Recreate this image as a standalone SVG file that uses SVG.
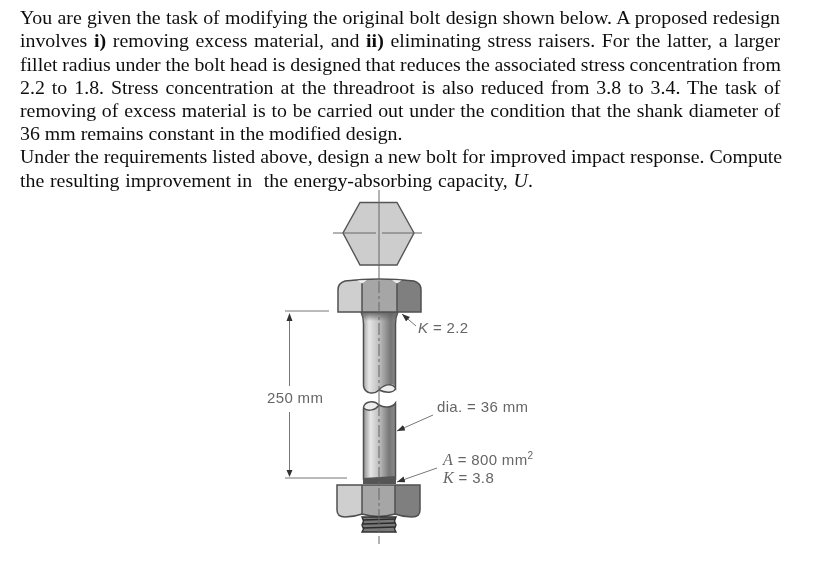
<svg xmlns="http://www.w3.org/2000/svg" width="816" height="566" viewBox="0 0 816 566">
<style>
.t{font-family:"Liberation Serif","Times New Roman",serif;font-size:19.85px;fill:#111}
.l{font-family:"Liberation Sans",Arial,sans-serif;font-size:15px;letter-spacing:.35px;fill:#666}
.i{font-family:"Liberation Serif","Times New Roman",serif;font-style:italic;font-size:16px}
.e{fill:none;stroke:#505050;stroke-width:1.500}
.d{fill:none;stroke:#777;stroke-width:1}
.c{fill:none;stroke:#666;stroke-width:1}
.f1{fill:#cfcfcf}.f2{fill:#a6a6a6}.f3{fill:#7f7f7f}
</style>
<defs>
<linearGradient id="sh" x1="0" x2="1" y1="0" y2="0"><stop offset="0" stop-color="#8f8f8f"/><stop offset=".22" stop-color="#e6e6e6"/><stop offset=".5" stop-color="#bcbcbc"/><stop offset=".8" stop-color="#777"/><stop offset="1" stop-color="#8a8a8a"/></linearGradient>
<linearGradient id="fl" x1="0" x2="0" y1="0" y2="1"><stop offset="0" stop-color="#666"/><stop offset="1" stop-color="#666" stop-opacity="0"/></linearGradient>
<marker id="a" markerWidth="9" markerHeight="8" refX="8" refY="3" orient="auto" markerUnits="userSpaceOnUse"><path d="M0 0L8 3L0 6z" fill="#333"/></marker>
<filter id="b" x="-5%" y="-5%" width="110%" height="110%"><feGaussianBlur stdDeviation="0.45"/></filter>
</defs>
<rect width="816" height="566" fill="#fff"/>
<g id="statement" filter="url(#b)">
<text class="t" x="20" y="24" word-spacing="0.33">You are given the task of modifying the original bolt design shown below. A proposed redesign</text>
<text class="t" x="20" y="47" word-spacing="1.75">involves <tspan font-weight="700">i)</tspan> removing excess material, and <tspan font-weight="700">ii)</tspan> eliminating stress raisers. For the latter, a larger</text>
<text class="t" x="20" y="71" word-spacing="-0.2">fillet radius under the bolt head is designed that reduces the associated stress concentration from</text>
<text class="t" x="20" y="94" word-spacing="2.06">2.2 to 1.8. Stress concentration at the threadroot is also reduced from 3.8 to 3.4. The task of</text>
<text class="t" x="20" y="117" word-spacing="0.83">removing of excess material is to be carried out under the condition that the shank diameter of</text>
<text class="t" x="20" y="140">36 mm remains constant in the modified design.</text>
<text class="t" x="20" y="163">Under the requirements listed above, design a new bolt for improved impact response. Compute</text>
<text class="t" x="20" y="187" xml:space="preserve" word-spacing="0.8">the resulting improvement in  the energy-absorbing capacity, <tspan font-style="italic">U</tspan>.</text>
</g>
<g filter="url(#b)">
<g id="hexagon"><path d="M360 202.500H397L414 233L397 265H360L343 233Z" fill="#cdcdcd" stroke="#555" stroke-width="1.400"/></g>
<g id="shank-upper">
<path d="M361 312H398C396 316 395.500 320 395.500 324V386C392 382 383 385 379 390C374 395 365 394 363.500 386V324C363.500 320 363 316 361 312Z" fill="url(#sh)"/>
<path d="M379 390C383 385 392 382 395.500 388C395 392 388 394 379 390Z" fill="#eee"/>
<path class="e" d="M361 312C363 316 363.500 320 363.500 324V386C365 394 374 395 379 390C383 385 392 382 395.500 388V324C395.500 320 396 316 398 312M379 390C388 394 395 392 395.500 388"/>
<path d="M361 312H398C396.500 315 396 318 395.500 321H363.500C363 318 362.500 315 361 312Z" fill="url(#fl)"/>
</g>
<g id="shank-lower">
<path d="M363.500 408C364 401 374 400 379 405C384 408 392 408 395.500 403V480H363.500Z" fill="url(#sh)"/>
<path d="M363.500 408C364 401 374 400 379 405C376 410 368 412 363.500 408Z" fill="#eee"/>
<path class="e" d="M363.500 480V408C364 401 374 400 379 405C384 408 392 408 395.500 403V480M363.500 408C368 412 376 410 379 405"/>
<path d="M363 478L396 476V484H363Z" fill="#555"/>
</g>
<g id="head">
<path class="f1" d="M338 312V290Q338 283 345 281L355 279.500L362 283V312Z"/>
<path class="f2" d="M362 283L368 279.500H391L397 283V312H362Z"/>
<path class="f3" d="M397 283L403 279.500L414 281Q421 283 421 290V312H397Z"/>
<path class="e" d="M338 312V290Q338 283 345 281Q379 277 414 281Q421 283 421 290V312ZM362 283V312M397 283V312"/>
<path d="M358 280.500H366L362 283.500ZM393 280.500H401L397 283.500Z" fill="#eee"/>
</g>
<g id="nut">
<path class="f1" d="M337 485H362V514Q354 517 345 517Q337 517 337 510Z"/>
<path class="f2" d="M362 485H395V514Q378.500 519 362 514Z"/>
<path class="f3" d="M395 485H420V510Q420 517 412 517Q403 517 395 514Z"/>
<path class="e" d="M337 485H420V510Q420 517 412 517Q403 517 395 514Q378.500 519 362 514Q354 517 345 517Q337 517 337 510ZM362 485V514M395 485V514"/>
<path d="M362 517H396L394.500 521L396 525L394.500 529L396 532H362L363.500 529L362 525L363.500 521Z" fill="#7a7a7a" stroke="#333" stroke-width="1.400"/>
<path d="M363 520L395 519M363 524L395 523M363 528L395 527" stroke="#2c2c2c" stroke-width="1.700" fill="none"/>
</g>
</g>
<g id="connectors" filter="url(#b)">
<path class="c" d="M379 190V279"/>
<path class="c" d="M333 233H376M382 233H422"/>
<path class="c" stroke-dasharray="12 3 3 3" d="M379 281V396"/>
<path class="c" d="M379 396V404"/>
<path class="c" stroke-dasharray="12 3 3 3" d="M379 404V517"/>
<path class="c" stroke-dasharray="8 4 3 4" d="M379 517V544"/>
<path class="d" d="M285 311H329M285 478H347"/>
<path class="d" d="M289.500 320V386M289.500 412V470"/>
<path d="M289.500 313L286.500 321H292.500ZM289.500 477L286.500 470H292.500Z" fill="#333"/>
<path class="d" marker-end="url(#a)" d="M416 326L402 314"/>
<path class="d" marker-end="url(#a)" d="M433 415L397 431"/>
<path class="d" marker-end="url(#a)" d="M437 468L397 482"/>
</g>
<g id="labels" filter="url(#b)">
<text class="l" x="418" y="333"><tspan font-style="italic">K</tspan> = 2.2</text>
<text class="l" x="267" y="403">250 mm</text>
<text class="l" x="437" y="412">dia. = 36 mm</text>
<text class="l" x="443" y="465"><tspan class="i">A</tspan> = 800 mm<tspan font-size="10" dy="-6">2</tspan></text>
<text class="l" x="443" y="483"><tspan class="i">K</tspan> = 3.8</text>
</g>
</svg>
